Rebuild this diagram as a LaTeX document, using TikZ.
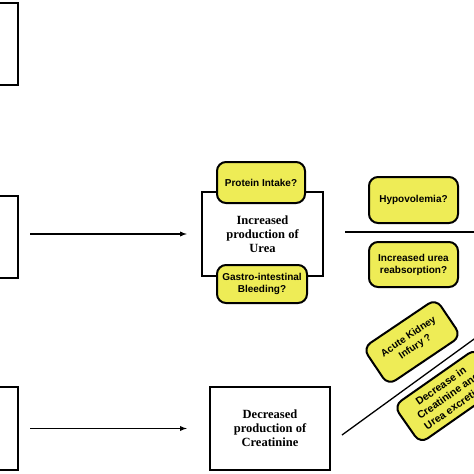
\documentclass[tikz,border=0pt]{standalone}
\usepackage{fontspec}
\setmainfont{Liberation Serif}
\setsansfont{Liberation Sans}
\usetikzlibrary{arrows, positioning}
\definecolor{queryyellow}{RGB}{238,236,86}

\begin{document}
\begin{tikzpicture}[x=1pt, y=-1pt,
    block/.style={rectangle, draw, line width=2.4pt, minimum width=121pt, minimum height=84pt, align=center, font=\fontsize{12.5}{14}\selectfont\bfseries},
    query/.style={rectangle, rounded corners=9pt, draw, line width=2pt, fill=queryyellow, minimum width=89pt, minimum height=44pt, inner sep=1pt, align=center, font=\fontsize{10}{12}\selectfont\sffamily\bfseries},
    arrow/.style={->, >=latex, line width=1.3pt},
    split/.style={line width=1.3pt}
]
\clip (0,0) rectangle (474,474);

% Left side - boxes cut by the border
\node[block, minimum width=60pt, minimum height=82pt] (prev1) at (-12,44) {};
\node[block, minimum width=60pt, minimum height=82pt] (prev2) at (-12,237) {};
\node[block, minimum width=60pt, minimum height=83pt] (prev3) at (-12,428.5) {};

% Middle - production
\node[block] (urea) at (262.5,234) {Increased\\production of\\Urea};
\node[block, minimum width=120pt, minimum height=83pt] (creat) at (270,428.5) {Decreased\\production of\\Creatinine};

\node[query, minimum width=88pt, minimum height=41pt] (protein) at (261,182.5) {Protein Intake?};
\node[query, minimum width=90pt, minimum height=38pt] (gastro) at (262,284) {Gastro-intestinal\\Bleeding?};

% Right side - causes
\node[query, minimum height=46pt] (hypo) at (413.5,200) {Hypovolemia?};
\node[query, minimum height=45pt] (reabs) at (413.5,264.5) {Increased urea\\reabsorption?};

\node[query, rotate=34, minimum width=88pt, minimum height=45pt] (aki) at (412,342) {Acute Kidney\\Infury ?};
\node[query, rotate=35, minimum width=100pt, minimum height=46pt, font=\fontsize{10.5}{12.5}\selectfont\sffamily\bfseries] (excr) at (448,396) {Decrease in\\Creatinine and\\Urea excretion};

% Arrows
\draw[arrow, shorten <=11pt, shorten >=14pt] (prev2.east |- urea.west) -- (urea.west);
\draw[arrow, shorten <=11pt, shorten >=22pt] (prev3.east |- creat.west) -- (creat.west);

% Split lines
\coordinate (split1) at (345,232);
\coordinate (split1end) at (480,232);
\draw[split] (split1) -- (split1end);
\coordinate (split2) at (342,435);
\coordinate (split2end) at (500,320.2);
\draw[split] (split2) -- (split2end);

\end{tikzpicture}
\end{document}
